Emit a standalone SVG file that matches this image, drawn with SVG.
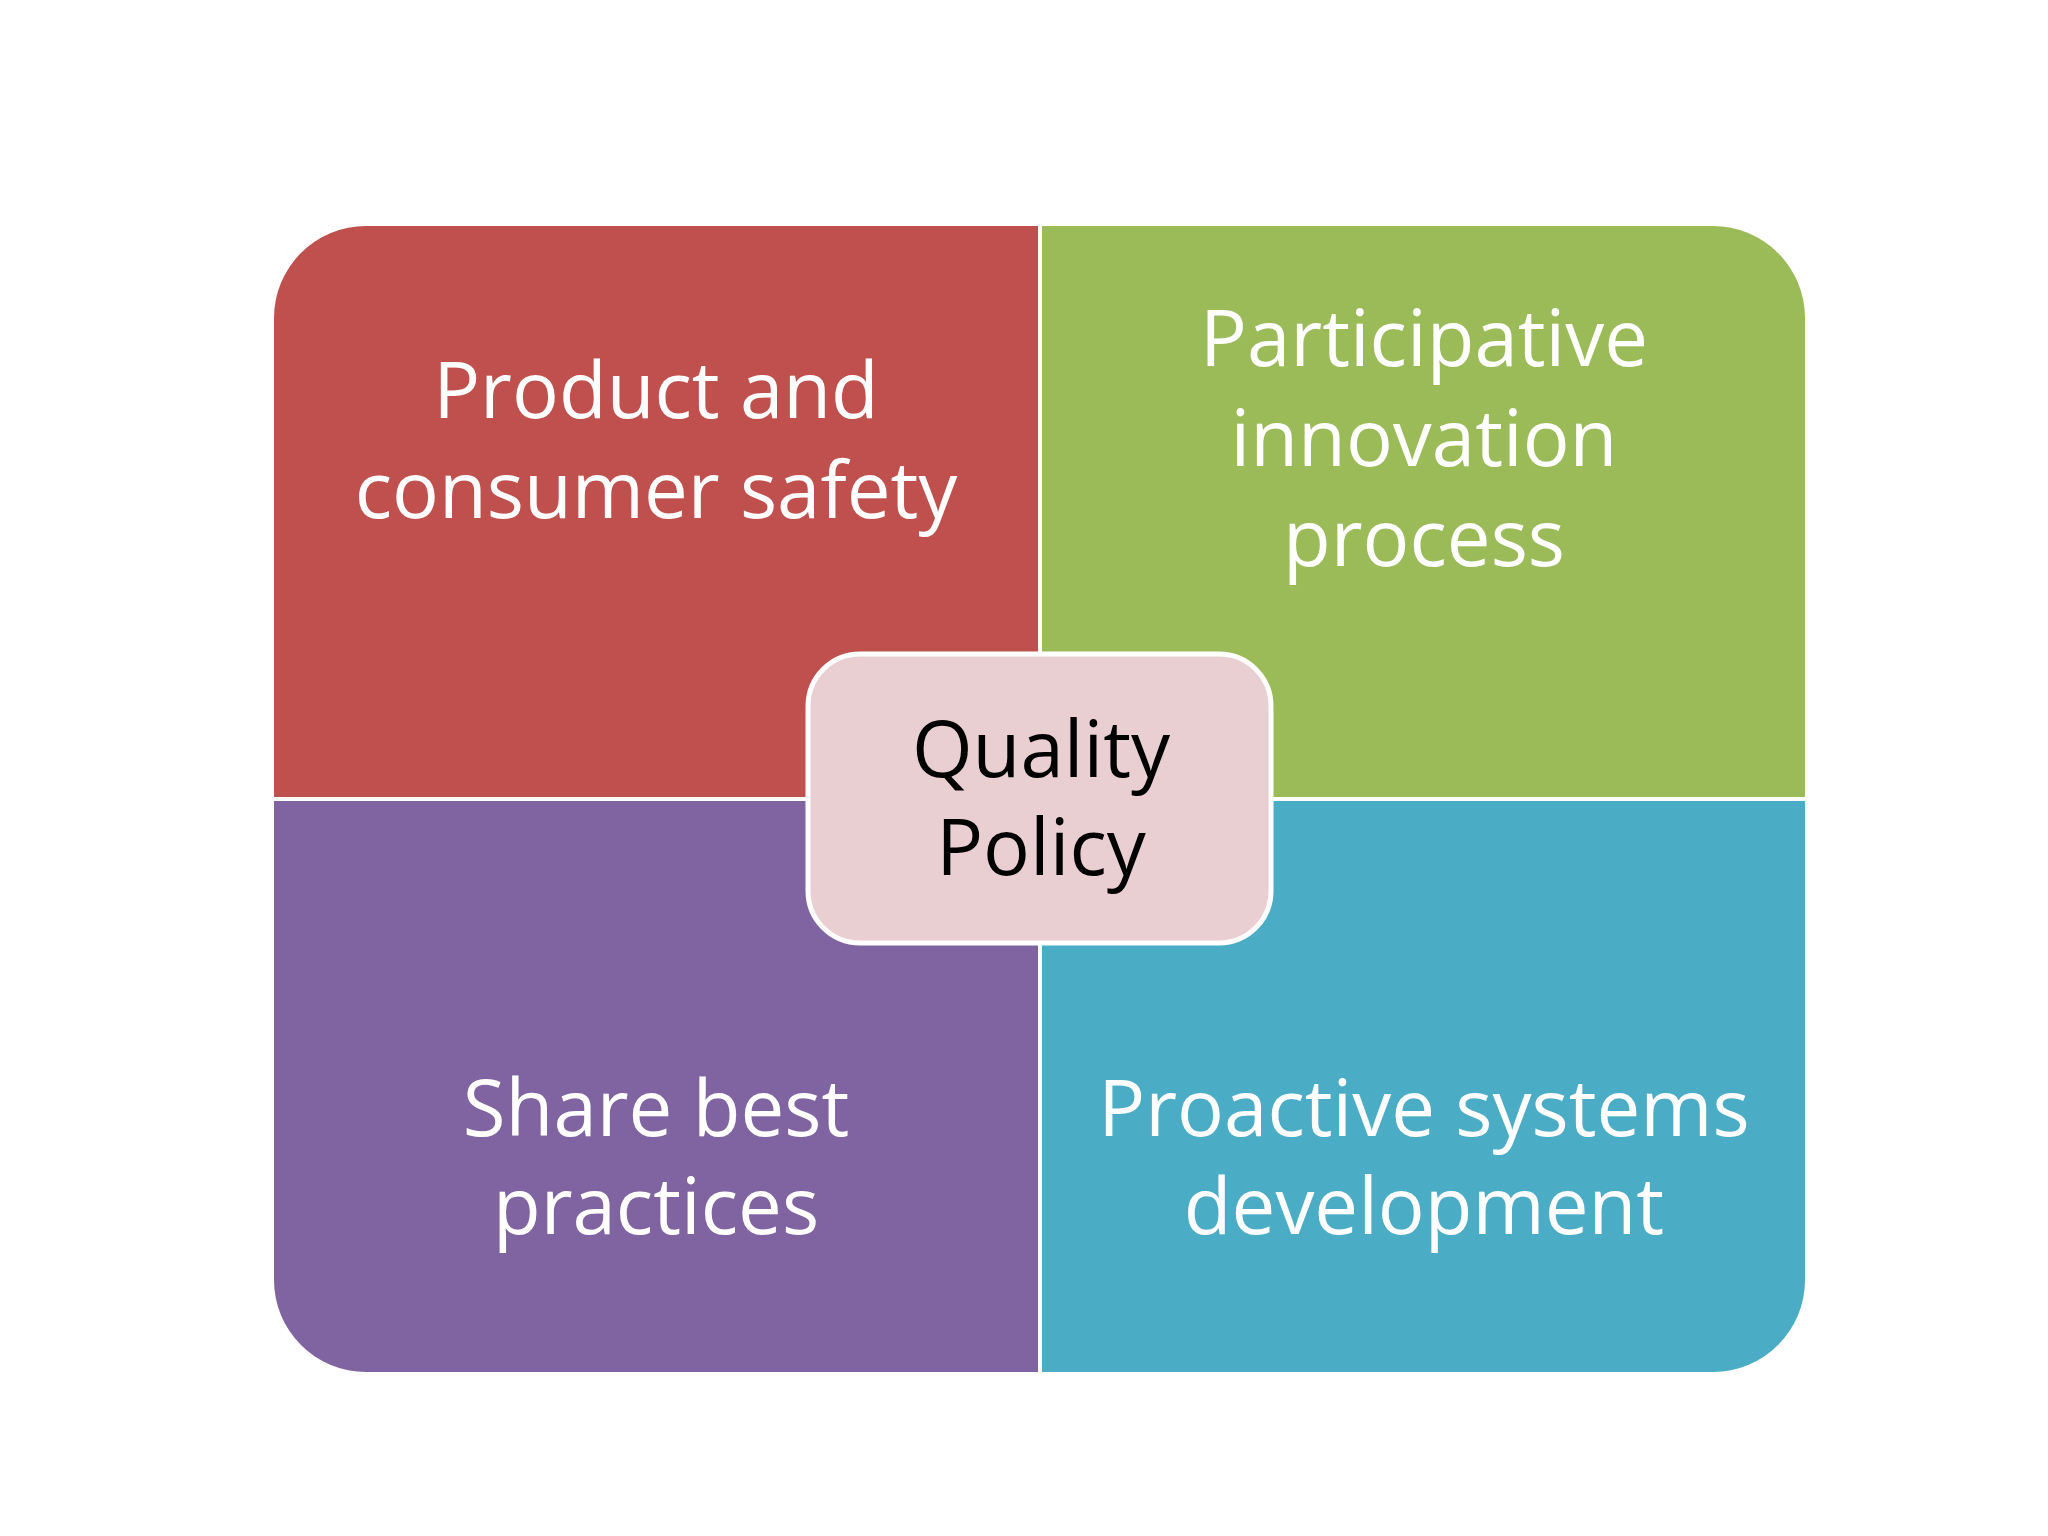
<svg xmlns="http://www.w3.org/2000/svg" width="2048" height="1536" viewBox="0 0 2048 1536">
<style>
.t{font-family:"Open Sans","Noto Sans",sans-serif;font-size:78px;fill:#fff;text-anchor:middle}
.c{fill:#000}
</style>
<rect width="2048" height="1536" fill="#fff"/>
<g id="red"><path d="M274 318 A92 92 0 0 1 366 226 H1040 V799 H274 Z" fill="#C0504D"/>
<text class="t" x="656" y="418">Product and</text><text class="t" x="656" y="518">consumer safety</text></g>
<g id="green"><path d="M1040 226 H1713 A92 92 0 0 1 1805 318 V799 H1040 Z" fill="#9BBB59"/>
<text class="t" x="1424" y="366">Participative</text><text class="t" x="1424" y="466">innovation</text><text class="t" x="1424" y="566">process</text></g>
<g id="purple"><path d="M274 799 H1040 V1372 H366 A92 92 0 0 1 274 1280 Z" fill="#8064A2"/>
<text class="t" x="656" y="1136">Share best</text><text class="t" x="656" y="1234">practices</text></g>
<g id="blue"><path d="M1040 799 H1805 V1280 A92 92 0 0 1 1713 1372 H1040 Z" fill="#4BACC6"/>
<text class="t" x="1424" y="1136">Proactive systems</text><text class="t" x="1424" y="1234">development</text></g>
<g id="dividers" stroke="#fff" stroke-width="4"><line x1="1040" y1="224" x2="1040" y2="1374"/><line x1="272" y1="799" x2="1807" y2="799"/></g>
<g id="center"><rect x="808" y="654" width="463" height="289" rx="52" fill="#EACFD2" stroke="#fff" stroke-width="5"/>
<text class="t c" x="1041" y="777">Quality</text><text class="t c" x="1041" y="875">Policy</text></g>
</svg>
